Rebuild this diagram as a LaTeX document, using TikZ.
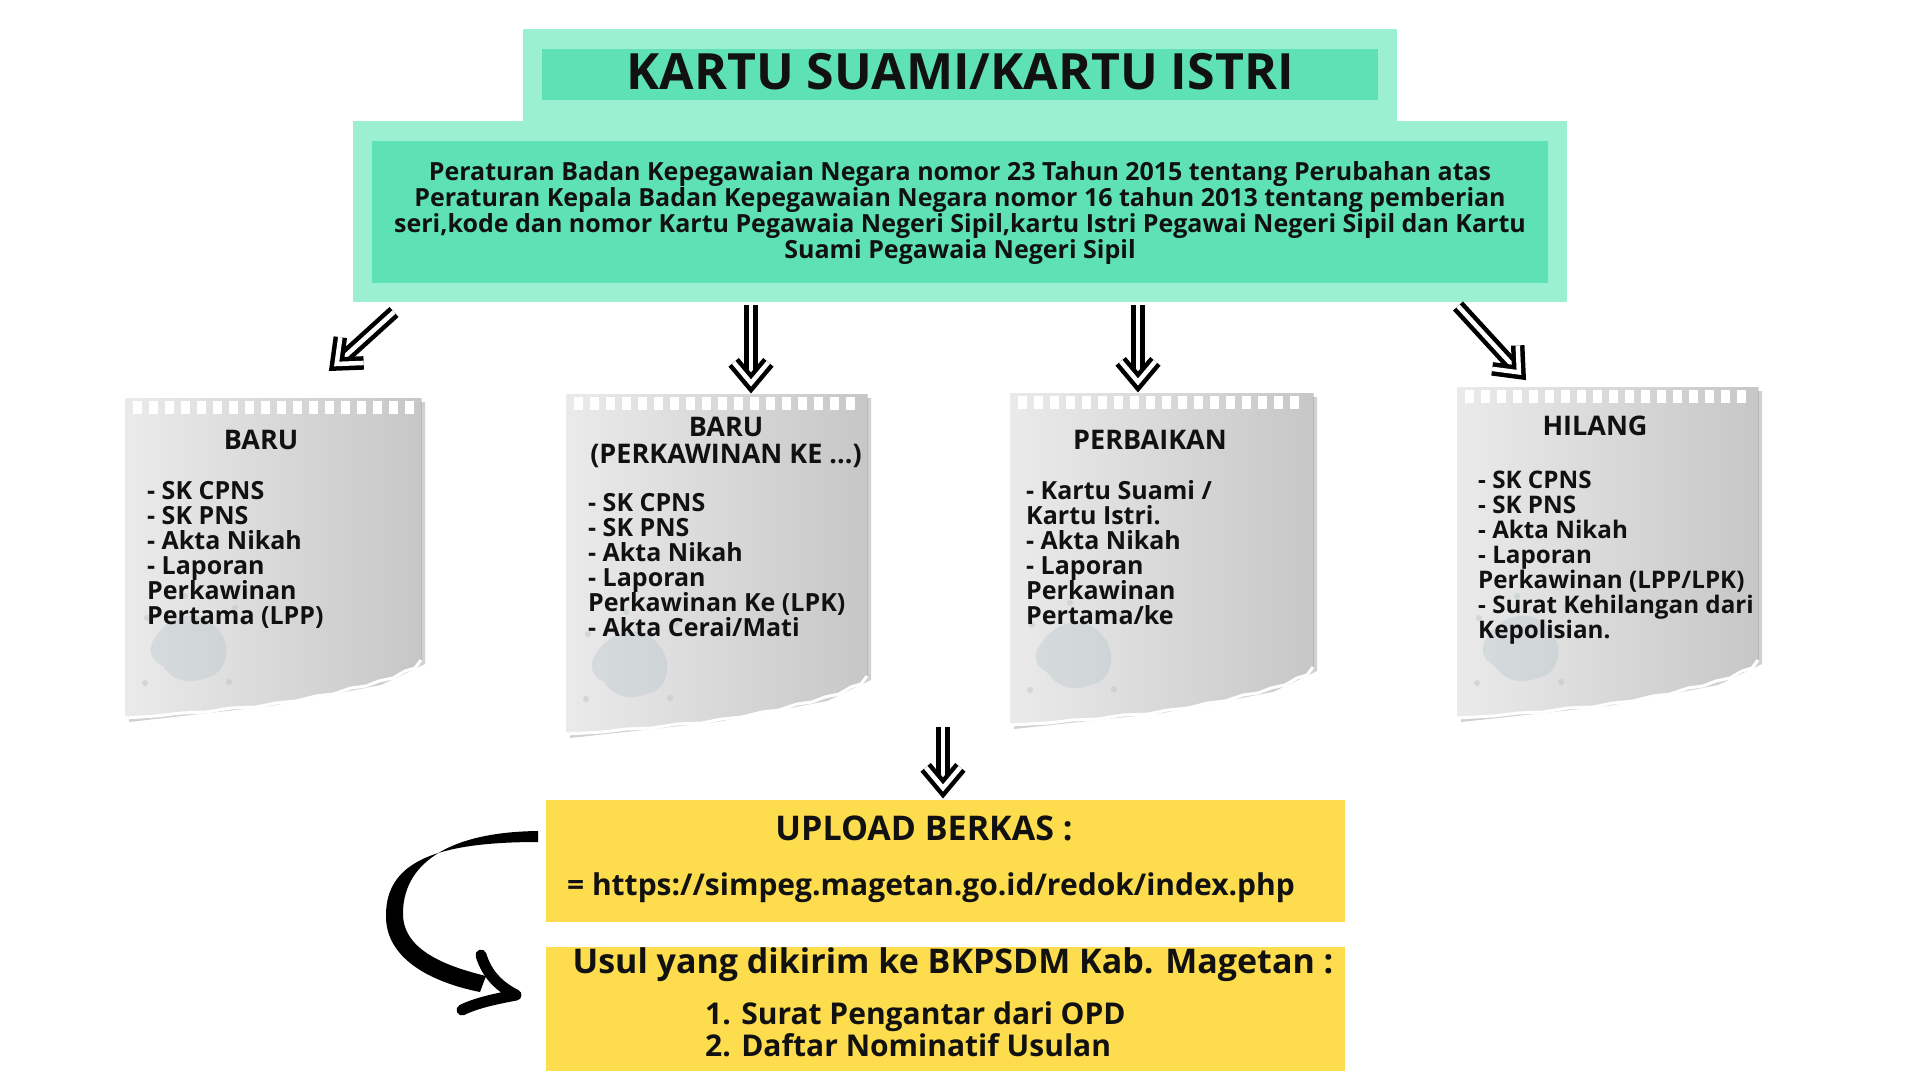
\documentclass[tikz,border=0pt]{standalone}
\usepackage{fontspec}
\setmainfont{Open Sans}
\usetikzlibrary{arrows.meta,calc}
\definecolor{gout}{HTML}{9BF0D1}
\definecolor{gin}{HTML}{5EE2B5}
\definecolor{ylw}{HTML}{FDDD4E}
\definecolor{ink}{HTML}{111111}
\definecolor{blob}{HTML}{B4C2C8}
\tikzset{
  dbl/.style={draw=black, double=white, double distance=4.5pt, line width=4.5pt},
  head/.style={text=ink, inner sep=0pt, font=\fontsize{27}{28}\selectfont\bfseries},
  body/.style={text=ink, inner sep=0pt, align=left, anchor=base west, font=\fontsize{25}{25}\selectfont\bfseries},
  ytext/.style={text=ink, inner sep=0pt},
}
\newcommand\dblArrow[2]{%
  \coordinate (tmpTip) at ($(#2)!9pt!(#1)$);
  \draw[dbl] (#1) -- (tmpTip);
  \draw[dbl, line join=miter] ($(tmpTip)!27pt!40:(#1)$) -- (tmpTip) -- ($(tmpTip)!27pt!-40:(#1)$);
}
\newcommand\paperCard[4]{%
\begin{scope}[shift={(#1,#2)}]
  \fill[black, opacity=.18] (4,4) -- ({#3+4},4) -- ({#3+4},{#4-54}) -- ({#3-40},{#4-33}) -- ({#3-150},{#4-12}) -- (4,{#4+4}) -- cycle;
  \fill[left color=black!8, right color=black!22]
    (0,0) -- (#3,0) -- (#3,{#4-58}) -- ({#3-6},{#4-50}) -- ({#3-16},{#4-47}) -- ({#3-28},{#4-40}) -- ({#3-42},{#4-37})
    -- ({#3-55},{#4-32}) -- ({#3-70},{#4-30}) -- ({#3-88},{#4-24}) -- ({#3-105},{#4-22}) -- ({#3-125},{#4-17})
    -- ({#3-145},{#4-15}) -- ({#3-165},{#4-11}) -- ({#3-190},{#4-10}) -- ({#3-215},{#4-6}) -- ({#3-240},{#4-5})
    -- ({#3-265},{#4-2}) -- (0,#4) -- cycle;
  \draw[white, line width=3pt, line join=round]
    (#3,{#4-58}) -- ({#3-6},{#4-50}) -- ({#3-16},{#4-47}) -- ({#3-28},{#4-40}) -- ({#3-42},{#4-37})
    -- ({#3-55},{#4-32}) -- ({#3-70},{#4-30}) -- ({#3-88},{#4-24}) -- ({#3-105},{#4-22}) -- ({#3-125},{#4-17})
    -- ({#3-145},{#4-15}) -- ({#3-165},{#4-11}) -- ({#3-190},{#4-10}) -- ({#3-215},{#4-6}) -- ({#3-240},{#4-5})
    -- ({#3-265},{#4-2}) -- (0,#4);
  \fill[blob, opacity=.35] (30,{#4-80}) .. controls (45,{#4-105}) and (75,{#4-110}) .. (92,{#4-90})
    .. controls (110,{#4-70}) and (100,{#4-42}) .. (80,{#4-40}) .. controls (62,{#4-32}) and (45,{#4-40}) .. (38,{#4-52})
    .. controls (25,{#4-58}) and (22,{#4-70}) .. (30,{#4-80}) -- cycle;
  \foreach \p in {(20,{#4-35}),(110,{#4-110}),(22,{#4-100}),(104,{#4-36}),(60,{#4-122})} \fill[blob, opacity=.45] \p circle (3);
  \foreach \i in {0,...,17} \fill[white] ({8+\i*16},3) rectangle ({17+\i*16},16);
\end{scope}}
\begin{document}
\begin{tikzpicture}[x=1pt,y=-1pt]
\useasboundingbox[fill=white] (0,0) rectangle (1920,1080);
% title
\node[fill=gout, minimum width=874pt, minimum height=92pt, inner sep=0] (titleout) at (960,75) {};
\node[fill=gin, minimum width=836pt, minimum height=51pt, inner sep=0] (titlebox) at (960,74.5) {};
\node[text=ink, inner sep=0, font=\fontsize{50}{56}\selectfont\bfseries] (title) at (960,72) {KARTU SUAMI/KARTU ISTRI};
\node[fill=gout, minimum width=1214pt, minimum height=181pt, inner sep=0] (subout) at (960,211.5) {};
\node[fill=gin, minimum width=1176pt, minimum height=142pt, inner sep=0] (subin) at (960,212) {};
\node[text=ink, align=center, inner sep=0, font=\fontsize{25}{24.8}\selectfont\bfseries] (reg) at (960,213)
 {Peraturan Badan Kepegawaian Negara nomor 23 Tahun 2015 tentang Perubahan atas\\
  Peraturan Kepala Badan Kepegawaian Negara nomor 16 tahun 2013 tentang pemberian\\
  seri,kode dan nomor Kartu Pegawaia Negeri Sipil,kartu Istri Pegawai Negeri Sipil dan Kartu\\
  Suami Pegawaia Negeri Sipil};
% cards
\paperCard{125}{398}{296}{320}
\paperCard{566}{394}{301}{340}
\paperCard{1010}{393}{303}{332}
\paperCard{1457}{387}{301}{331}
\node[head] (h1) at (261,440) {BARU};
\node[body] (b1) at (147,624) {- SK CPNS\\- SK PNS\\- Akta Nikah\\- Laporan\\Perkawinan\\Pertama (LPP)};
\node[head] (h2a) at (726,427) {BARU};
\node[head] (h2b) at (726,456) {(PERKAWINAN KE ...)};
\node[body] (b2) at (588,636) {- SK CPNS\\- SK PNS\\- Akta Nikah\\- Laporan\\Perkawinan Ke (LPK)\\- Akta Cerai/Mati};
\node[head] (h3) at (1150,440) {PERBAIKAN};
\node[body] (b3) at (1026,624) {- Kartu Suami /\\Kartu Istri.\\- Akta Nikah\\- Laporan\\Perkawinan\\Pertama/ke};
\node[head] (h4) at (1595,426) {HILANG};
\node[body, font=\fontsize{24.2}{25}\selectfont\bfseries] (b4) at (1478,638) {- SK CPNS\\- SK PNS\\- Akta Nikah\\- Laporan\\Perkawinan (LPP/LPK)\\- Surat Kehilangan dari\\Kepolisian.};
% arrows
\coordinate (a1s) at (394,312); \coordinate (a1e) at (330,370);
\coordinate (a2s) at (751,305); \coordinate (a2e) at (751,392);
\coordinate (a3s) at (1138,305); \coordinate (a3e) at (1138,391);
\coordinate (a4s) at (1458,306); \coordinate (a4e) at (1525,379);
\coordinate (a5s) at (943,727); \coordinate (a5e) at (943,797);
\dblArrow{a1s}{a1e}
\dblArrow{a2s}{a2e}
\dblArrow{a3s}{a3e}
\dblArrow{a4s}{a4e}
\dblArrow{a5s}{a5e}
% yellow boxes
\node[fill=ylw, minimum width=799pt, minimum height=122pt, inner sep=0] (upload) at (945.5,861) {};
\node[fill=ylw, minimum width=799pt, minimum height=124pt, inner sep=0] (usul) at (945.5,1009) {};
\node[ytext, font=\fontsize{34}{34}\selectfont\bfseries] (upt) at (924,828) {UPLOAD BERKAS :};
\node[ytext, font=\fontsize{30}{30}\selectfont\bfseries, anchor=base] (url) at (931,895) {= https://simpeg.magetan.go.id/redok/index.php};
\node[ytext, font=\fontsize{34}{34}\selectfont\bfseries, anchor=base] (ust) at (953,973) {Usul yang dikirim ke BKPSDM Kab. Magetan :};
\node[ytext, font=\fontsize{30}{30}\selectfont\bfseries, anchor=base west, align=left] (list) at (705,1056)
 {1. Surat Pengantar dari OPD\\2. Daftar Nominatif Usulan};
% curved brush arrow
\coordinate (cs) at (538,836);
\fill[black] (cs) ++(0,-5) .. controls (445,832) and (402,866) .. (403,915) .. controls (404,950) and (445,966) .. (486,976)
  -- (480,992) .. controls (430,982) and (385,958) .. (386,915) .. controls (386,860) and (440,842) .. (538,842) -- cycle;
\draw[line width=11pt, line cap=round, line join=round] (481,955) .. controls (487,975) and (500,987) .. (516,995)
  .. controls (495,999) and (476,1003) .. (462,1010);
\end{tikzpicture}
\end{document}
